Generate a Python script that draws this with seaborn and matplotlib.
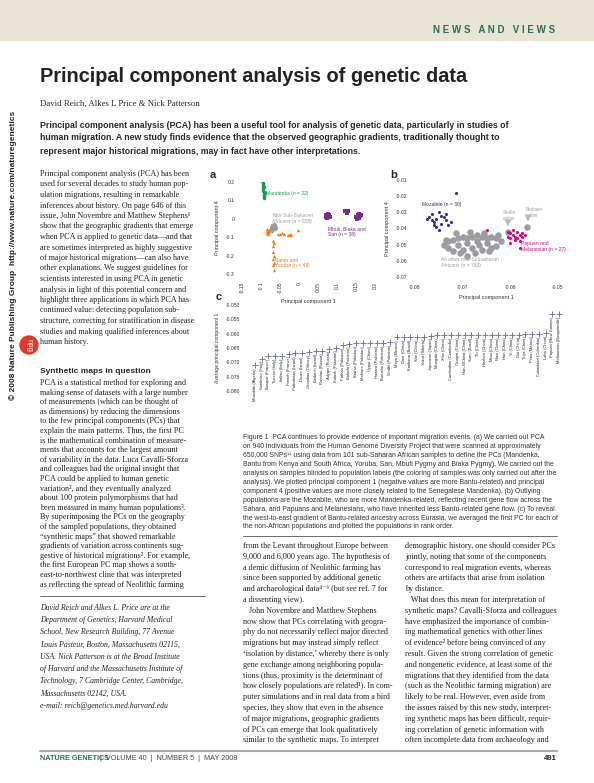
import numpy as np
import pandas as pd
import matplotlib
matplotlib.use("Agg")
import matplotlib.pyplot as plt
import matplotlib.patches as mpatches
import seaborn as sns

W, H = 594, 783

# ---- panel a: PC1 vs PC4, all 940 HGDP samples ----
mand_x = [-0.097, -0.096, -0.095, -0.095, -0.094, -0.094, -0.093, -0.093, -0.092, -0.092, -0.091, -0.091, -0.090, -0.093, -0.095]
mand_y = [0.205, 0.19, 0.18, 0.17, 0.16, 0.15, 0.145, 0.135, 0.13, 0.12, 0.115, 0.125, 0.14, 0.175, 0.195]
nonaf_x = [-0.075, -0.072, -0.070, -0.068, -0.066, -0.064, -0.062, -0.073, -0.069, -0.065, -0.061, -0.071, -0.067, -0.063, -0.070]
nonaf_y = [-0.045, -0.040, -0.035, -0.032, -0.030, -0.034, -0.040, -0.055, -0.050, -0.045, -0.050, -0.060, -0.058, -0.055, -0.065]
pyg_x = [0.070, 0.072, 0.075, 0.078, 0.080, 0.082, 0.074, 0.122, 0.124, 0.126, 0.125, 0.128, 0.150, 0.155, 0.158, 0.160, 0.163, 0.152, 0.157]
pyg_y = [0.010, 0.020, 0.025, 0.015, 0.020, 0.010, 0.005, 0.040, 0.045, 0.035, 0.030, 0.040, 0.010, 0.020, 0.025, 0.015, 0.020, 0.000, 0.005]
bantu_x = [-0.085, -0.083, -0.080, -0.082, -0.078, -0.084, -0.055, -0.050, -0.045, -0.040, -0.030, -0.025, -0.022, -0.002,
           -0.068, -0.067, -0.068, -0.069, -0.067, -0.068, -0.066, -0.069, -0.067]
bantu_y = [-0.055, -0.065, -0.070, -0.080, -0.060, -0.075, -0.080, -0.085, -0.075, -0.085, -0.090, -0.085, -0.090, -0.060,
           -0.120, -0.130, -0.150, -0.180, -0.200, -0.220, -0.240, -0.250, -0.280]

# ---- panel b: non-sub-Saharan samples only ----
moz_x = [-0.0775, -0.077, -0.0765, -0.076, -0.0755, -0.075, -0.0745, -0.074, -0.0735, -0.073, -0.0725, -0.076, -0.0745, -0.0735, -0.0755, -0.0715, -0.075, -0.0765]
moz_y = [-0.034, -0.033, -0.031, -0.036, -0.034, -0.030, -0.037, -0.033, -0.035, -0.038, -0.036, -0.038, -0.032, -0.031, -0.039, -0.018, -0.041, -0.035]
oth_x = [-0.074, -0.073, -0.072, -0.071, -0.070, -0.069, -0.068, -0.067, -0.066, -0.065, -0.064, -0.063, -0.062,
         -0.073, -0.071, -0.069, -0.067, -0.065, -0.063, -0.072, -0.070, -0.068, -0.066, -0.064,
         -0.0735, -0.0705, -0.0675, -0.0645, -0.0625, -0.0715, -0.0685, -0.0655, -0.069, -0.0665, -0.0565, -0.0605]
oth_y = [-0.050, -0.048, -0.047, -0.046, -0.045, -0.046, -0.045, -0.044, -0.045, -0.046, -0.045, -0.046, -0.048,
         -0.052, -0.050, -0.049, -0.048, -0.049, -0.051, -0.054, -0.053, -0.052, -0.053, -0.052,
         -0.047, -0.055, -0.055, -0.054, -0.044, -0.043, -0.042, -0.043, -0.057, -0.050, -0.039, -0.042]
pap_x = [-0.0605, -0.060, -0.0595, -0.059, -0.0585, -0.058, -0.0575, -0.060, -0.059, -0.058, -0.0595, -0.0585, -0.0575, -0.057, -0.060, -0.0605, -0.058, -0.065]
pap_y = [-0.042, -0.043, -0.044, -0.045, -0.046, -0.044, -0.043, -0.046, -0.047, -0.048, -0.041, -0.042, -0.045, -0.044, -0.049, -0.045, -0.052, -0.041]

# ---- panel c: average PC1 per non-African population, rank order ----
pops = ["Mozabite (Algeria)", "Sardinian (Italy)", "Basque (France)", "Tuscan (Italy)", "Italian (Italy)", "French (France)",
        "Palestinian (Israel)", "Druze (Israel)", "Orcadian (Orkney)", "Bedouin (Israel)", "Russian (Russia)", "Adygei (Russia)",
        "Kalash (Pakistan)", "Pathan (Pakistan)", "Balochi (Pakistan)", "Brahui (Pakistan)", "Makrani (Pakistan)", "Uygur (China)",
        "Hazara (Pakistan)", "Burusho (Pakistan)", "Sindhi (Pakistan)", "Maya (Mexico)", "Daur (China)", "Karitiana (Brazil)",
        "She (China)", "Yakut (Siberia)", "Japanese (Japan)", "Mongola (China)", "Xibo (China)", "Cambodian (Cambodia)",
        "Oroqen (China)", "Han-NChina (China)", "Surui (Brazil)", "Tu (China)", "Hezhen (China)", "Miao (China)", "Naxi (China)",
        "Han (China)", "Yi (China)", "Dai (China)", "Tujia (China)", "Pima (Mexico)", "Colombian (Colombia)", "Lahu (China)",
        "Papuan (New Guinea)", "Melanesian (Bougainville)"]
avg_pc1 = [-0.0711, -0.0687, -0.0678, -0.0678, -0.0678, -0.0670, -0.0669, -0.0669, -0.0665, -0.0662, -0.0659, -0.0652,
           -0.0649, -0.0640, -0.0637, -0.0634, -0.0634, -0.0633, -0.0632, -0.0632, -0.0628, -0.0613, -0.0612, -0.0612,
           -0.0611, -0.0610, -0.0607, -0.0606, -0.0606, -0.0605, -0.0605, -0.0605, -0.0604, -0.0604, -0.0604, -0.0604,
           -0.0604, -0.0603, -0.0603, -0.0603, -0.0601, -0.0601, -0.0600, -0.0598, -0.0533, -0.0531]

green, grey, purple, orange = "#1a9a4a", "#9a9ca0", "#7b2d8e", "#f07c1e"
blue, pink, cross = "#2e3192", "#e5007e", "#6e72c9"
teal = "#2a6e5a"

sns.set_style("white")
plt.rcParams["font.family"] = ["Liberation Sans", "DejaVu Sans"]

fig = plt.figure(figsize=(W / 100, H / 100), dpi=100)


def px_axes(left, top, width, height):
    return fig.add_axes([left / W, 1 - (top + height) / H, width / W, height / H])


def txt(x, y, s, **kw):
    kw.setdefault("va", "center")
    return fig.text(x / W, 1 - y / H, s, **kw)


def column(x, y0, step, lines, **kw):
    for i, line in enumerate(lines):
        if line:
            txt(x, y0 + i * step, line, **kw)


def hline(x0, x1, y, color="#555555", lw=0.6):
    fig.add_artist(plt.Line2D([x0 / W, x1 / W], [1 - y / H, 1 - y / H], color=color, lw=lw))


# header band and title block
fig.add_artist(mpatches.Rectangle((0, 1 - 40 / H), 1, 40 / H, color="#e9e5d6", transform=fig.transFigure, zorder=0))
txt(555, 30, "N E W S   A N D   V I E W S", ha="right", color=teal, fontsize=7, fontweight="bold")
txt(40, 76, "Principal component analysis of genetic data", fontsize=14.3, fontweight="bold", color="#222222")
txt(40, 104, "David Reich, Alkes L Price & Nick Patterson", fontsize=6.3, family="Liberation Serif")
column(40, 125, 13, [
    "Principal component analysis (PCA) has been a useful tool for analysis of genetic data, particularly in studies of",
    "human migration. A new study finds evidence that the observed geographic gradients, traditionally thought to",
    "represent major historical migrations, may in fact have other interpretations."],
    fontsize=6.3, fontweight="bold")

# side credit and logo
txt(13, 255, "© 2008 Nature Publishing Group  http://www.nature.com/naturegenetics",
    rotation=90, ha="center", fontsize=6.0, fontweight="bold", color="#222222")
fig.add_artist(mpatches.Ellipse((29 / W, 1 - 345 / H), 18 / W, 18 / H, color="#e03a2c", transform=fig.transFigure))
txt(29, 345, "npg", rotation=270, ha="center", color="white", fontsize=5.5)

serif_fam = ["Liberation Serif", "DejaVu Serif"]
serif = dict(family=serif_fam, fontsize=5.85, color="#222222")
left_col = [
    "Principal component analysis (PCA) has been",
    "used for several decades to study human pop-",
    "ulation migrations, resulting in remarkable",
    "inferences about history. On page 646 of this",
    "issue, John Novembre and Matthew Stephens¹",
    "show that the geographic gradients that emerge",
    "when PCA is applied to genetic data—and that",
    "are sometimes interpreted as highly suggestive",
    "of major historical migrations—can also have",
    "other explanations. We suggest guidelines for",
    "scientists interested in using PCA in genetic",
    "analysis in light of this potential concern and",
    "highlight three applications in which PCA has",
    "continued value: detecting population sub-",
    "structure, correcting for stratification in disease",
    "studies and making qualified inferences about",
    "human history."]
column(40, 174, 10.5, left_col, **serif)
txt(40, 371, "Synthetic maps in question", fontsize=6.0, fontweight="bold")
left_col2 = [
    "PCA is a statistical method for exploring and",
    "making sense of datasets with a large number",
    "of measurements (which can be thought of",
    "as dimensions) by reducing the dimensions",
    "to the few principal components (PCs) that",
    "explain the main patterns. Thus, the first PC",
    "is the mathematical combination of measure-",
    "ments that accounts for the largest amount",
    "of variability in the data. Luca Cavalli-Sforza",
    "and colleagues had the original insight that",
    "PCA could be applied to human genetic",
    "variation², and they eventually analyzed",
    "about 100 protein polymorphisms that had",
    "been measured in many human populations³.",
    "By superimposing the PCs on the geography",
    "of the sampled populations, they obtained",
    "\u201csynthetic maps\u201d that showed remarkable",
    "gradients of variation across continents sug-",
    "gestive of historical migrations². For example,",
    "the first European PC map shows a south-",
    "east-to-northwest cline that was interpreted",
    "as reflecting the spread of Neolithic farming"]
column(40, 383, 9.6, left_col2, **serif)
hline(40, 205, 596)
column(40, 608, 12.2, [
    "David Reich and Alkes L. Price are at the",
    "Department of Genetics, Harvard Medical",
    "School, New Research Building, 77 Avenue",
    "Louis Pasteur, Boston, Massachusetts 02115,",
    "USA. Nick Patterson is at the Broad Institute",
    "of Harvard and the Massachusetts Institute of",
    "Technology, 7 Cambridge Center, Cambridge,",
    "Massachusetts 02142, USA.",
    "e-mail: reich@genetics.med.harvard.edu"],
    family=serif_fam, style="italic", fontsize=5.6, color="#222222")

# caption
cap = [
    "Figure 1  PCA continues to provide evidence of important migration events. (a) We carried out PCA",
    "on 940 individuals from the Human Genome Diversity Project that were scanned at approximately",
    "650,000 SNPs¹¹ using data from 101 sub-Saharan African samples to define the PCs (Mandenka,",
    "Bantu from Kenya and South Africa, Yoruba, San, Mbuti Pygmy and Biaka Pygmy). We carried out the",
    "analysis on samples blinded to population labels (the coloring of samples was only carried out after the",
    "analysis). We plotted principal component 1 (negative values are more Bantu-related) and principal",
    "component 4 (positive values are more closely related to the Senegalese Mandenka). (b) Outlying",
    "populations are the Mozabite, who are more Mandenka-related, reflecting recent gene flow across the",
    "Sahara, and Papuans and Melanesians, who have inherited less Bantu-related gene flow. (c) To reveal",
    "the west-to-east gradient of Bantu-related ancestry across Eurasia, we averaged the first PC for each of",
    "the non-African populations and plotted the populations in rank order."]
column(243, 438, 8.9, cap, fontsize=4.95, color="#333333")
hline(243, 557, 536)

mid_col = [
    "from the Levant throughout Europe between",
    "9,000 and 6,000 years ago. The hypothesis of",
    "a demic diffusion of Neolithic farming has",
    "since been supported by additional genetic",
    "and archaeological data⁴⁻⁶ (but see ref. 7 for",
    "a dissenting view).",
    "   John Novembre and Matthew Stephens",
    "now show that PCs correlating with geogra-",
    "phy do not necessarily reflect major directed",
    "migrations but may instead simply reflect",
    "\u2018isolation by distance,\u2019 whereby there is only",
    "gene exchange among neighboring popula-",
    "tions (thus, proximity is the determinant of",
    "how closely populations are related¹). In com-",
    "puter simulations and in real data from a bird",
    "species, they show that even in the absence",
    "of major migrations, geographic gradients",
    "of PCs can emerge that look qualitatively",
    "similar to the synthetic maps. To interpret"]
right_col = [
    "demographic history, one should consider PCs",
    "jointly, noting that some of the components",
    "correspond to real migration events, whereas",
    "others are artifacts that arise from isolation",
    "by distance.",
    "   What does this mean for interpretation of",
    "synthetic maps? Cavalli-Sforza and colleagues",
    "have emphasized the importance of combin-",
    "ing mathematical genetics with other lines",
    "of evidence² before being convinced of any",
    "result. Given the strong correlation of genetic",
    "and nongenetic evidence, at least some of the",
    "migrations that they identified from the data",
    "(such as the Neolithic farming migration) are",
    "likely to be real. However, even aside from",
    "the issues raised by this new study, interpret-",
    "ing synthetic maps has been difficult, requir-",
    "ing correlation of genetic information with",
    "often incomplete data from archaeology and"]
column(243, 546, 10.8, mid_col, **serif)
column(405, 546, 10.8, right_col, **serif)

# footer
hline(40, 557, 751, color="#aaaaaa", lw=1.5)
txt(40, 758, "NATURE GENETICS", fontsize=5.2, fontweight="bold", color=teal)
txt(100, 758, "|  VOLUME 40  |  NUMBER 5  |  MAY 2008", fontsize=5.2, color="#444444")
txt(557, 758, "491", ha="right", fontsize=5.6, fontweight="bold")

small = 3.6


def style_ax(ax):
    sns.despine(ax=ax, left=True, bottom=True)
    ax.tick_params(labelsize=small, length=2, width=0.4, colors="#333333")
    ax.set_facecolor("none")


# panel a
ax = px_axes(242, 182, 133, 92)
frames = [(mand_x, mand_y, green, "o"), (nonaf_x, nonaf_y, grey, "o"), (pyg_x, pyg_y, purple, "s"), (bantu_x, bantu_y, orange, "^")]
for xs, ys, col, mk in frames:
    sns.scatterplot(x=xs, y=ys, color=col, marker=mk, s=6, linewidth=0, ax=ax)
ax.set_xlim(-0.15, 0.2)
ax.set_ylim(-0.3, 0.2)
ax.set_xticks([-0.15, -0.1, -0.05, 0, 0.05, 0.1, 0.15, 0.2])
ax.set_xticklabels(["-0.15", "-0.1", "-0.05", "0", "0.05", "0.1", "0.15", "0.2"], rotation=90)
ax.set_yticks([0.2, 0.1, 0, -0.1, -0.2, -0.3])
ax.set_yticklabels(["0.2", "0.1", "0", "-0.1", "-0.2", "-0.3"])
ax.set_xlabel("Principal component 1", fontsize=small + 0.4, color="#333333")
ax.set_ylabel("Principal component 4", fontsize=small + 0.4, color="#333333")
style_ax(ax)
ax.text(-0.087, 0.14, "Mandenka (n = 22)", color=green, fontsize=small, va="center")
ax.text(-0.07, 0.0, "Non-Sub-Saharan\nAfricans (n = 838)", color=grey, fontsize=small, va="center")
ax.text(0.075, -0.07, "Mbuti, Biaka and\nSan (n = 38)", color=purple, fontsize=small, va="center")
ax.text(-0.062, -0.24, "Bantu and\nYoruba (n = 43)", color=orange, fontsize=small, va="center")
txt(210, 175, "a", fontsize=8, fontweight="bold")

# panel b
ax = px_axes(415, 180, 143, 97)
sns.scatterplot(x=oth_x, y=oth_y, color=grey, marker="o", s=22, linewidth=0, ax=ax)
sns.scatterplot(x=moz_x, y=moz_y, color=blue, marker="o", s=5, linewidth=0, ax=ax)
sns.scatterplot(x=pap_x, y=pap_y, color=pink, marker="o", s=5, linewidth=0, ax=ax)
ax.set_xlim(-0.08, -0.05)
ax.set_ylim(-0.07, -0.01)
ax.set_xticks([-0.08, -0.07, -0.06, -0.05])
ax.set_xticklabels(["-0.08", "-0.07", "-0.06", "-0.05"])
ax.set_yticks([-0.01, -0.02, -0.03, -0.04, -0.05, -0.06, -0.07])
ax.set_yticklabels(["-0.01", "-0.02", "-0.03", "-0.04", "-0.05", "-0.06", "-0.07"])
ax.set_xlabel("Principal component 1", fontsize=small + 0.4, color="#333333")
ax.set_ylabel("Principal component 4", fontsize=small + 0.4, color="#333333")
style_ax(ax)
ax.text(-0.0785, -0.025, "Mozabite (n = 30)", color=blue, fontsize=small, va="center")
ax.text(-0.0615, -0.032, "Sindhi\noutlier", color=grey, fontsize=small - 0.3, va="center")
ax.text(-0.0568, -0.030, "Bedouin\noutlier", color=grey, fontsize=small - 0.3, va="center")
ax.annotate("", xy=(-0.0605, -0.0405), xytext=(-0.0605, -0.0355),
            arrowprops=dict(arrowstyle="simple", color="#bbbbbb", lw=0))
ax.annotate("", xy=(-0.0563, -0.0375), xytext=(-0.0563, -0.0335),
            arrowprops=dict(arrowstyle="simple", color="#bbbbbb", lw=0))
ax.text(-0.0578, -0.051, "Papuan and\nMelanesian (n = 27)", color=pink, fontsize=small, va="center")
ax.text(-0.0745, -0.061, "All other non-Subsaharan\nAfricans (n = 763)", color=grey, fontsize=small, va="center")
txt(390, 175, "b", fontsize=8, fontweight="bold")

# panel c
dc = pd.DataFrame({"pop": pops, "pc1": avg_pc1})
ax = px_axes(248, 305, 318, 86)
sns.scatterplot(data=dc, x="pop", y="pc1", marker="+", color=cross, s=14, linewidth=0.7, ax=ax)
ax.set_ylim(-0.080, -0.050)
ax.set_xlim(-1, len(pops))
ax.set_yticks([-0.050, -0.055, -0.060, -0.065, -0.070, -0.075, -0.080])
ax.set_yticklabels(["-0.050", "-0.055", "-0.060", "-0.065", "-0.070", "-0.075", "-0.080"])
ax.set_xticks([])
for i, (p, v) in enumerate(zip(pops, avg_pc1)):
    ax.text(i, v - 0.0009, p, rotation=90, ha="center", va="top", fontsize=2.9, color="#222222")
ax.set_xlabel("")
ax.set_ylabel("Average principal component 1", fontsize=small, color="#333333")
style_ax(ax)
txt(216, 297, "c", fontsize=8, fontweight="bold")

fig.savefig("out.png", dpi=100)
